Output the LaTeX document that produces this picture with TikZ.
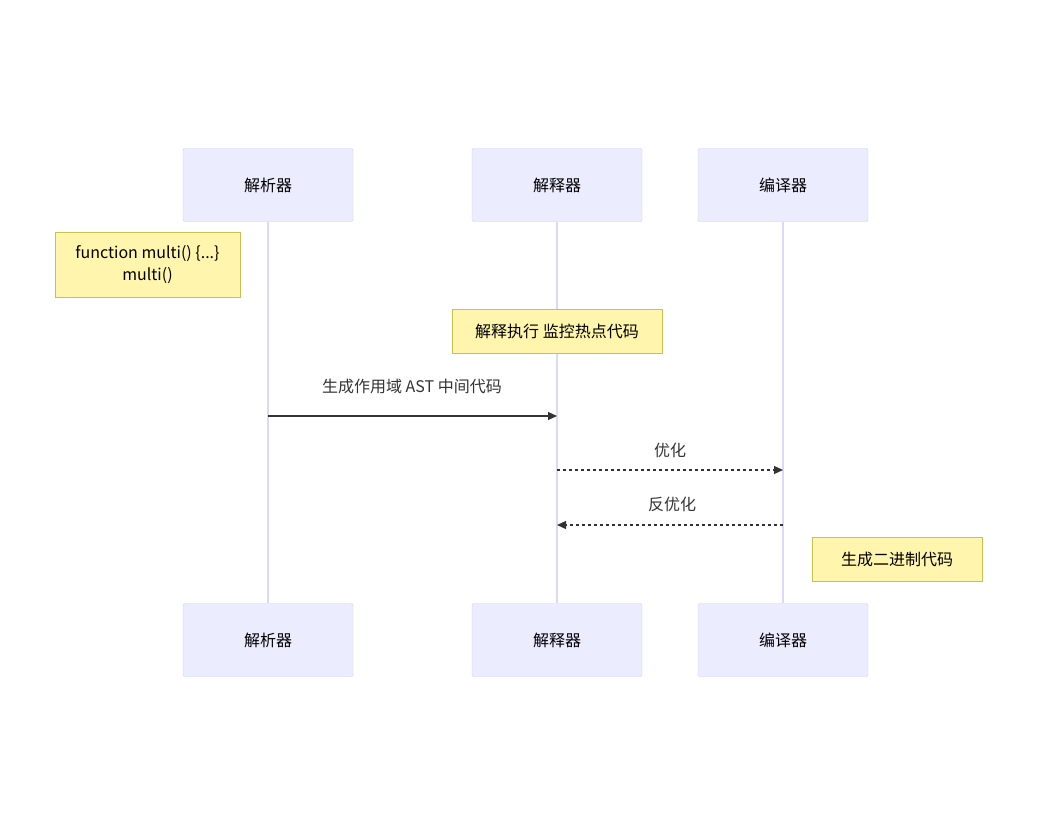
\documentclass[tikz,border=0pt]{standalone}
\usepackage{fontspec}
\setmainfont{Noto Sans CJK SC}
\usetikzlibrary{arrows.meta}
\definecolor{actfill}{HTML}{ECECFF}
\definecolor{actdraw}{HTML}{CCCCFF}
\definecolor{lifeline}{HTML}{DDD8F5}
\definecolor{notefill}{HTML}{FFF5AD}
\definecolor{notedraw}{HTML}{C8C050}
\definecolor{txt}{HTML}{333333}
\begin{document}
\begin{tikzpicture}[x=1pt,y=-1pt,
  actor/.style={draw=actdraw,fill=actfill,rounded corners=2pt,minimum width=170pt,minimum height=73pt,font=\fontsize{16}{19}\selectfont,text=black},
  note/.style={draw=notedraw,fill=notefill,minimum height=44pt,font=\fontsize{16}{22}\selectfont,text=black,align=center},
  life/.style={draw=lifeline,line width=2pt},
  msg/.style={draw=txt,line width=1.2pt,-{Triangle[length=9pt,width=8pt]}},
  lbl/.style={font=\fontsize{16}{19}\selectfont,text=txt}]
\useasboundingbox (0,0) rectangle (1039,827);
\node[actor] (a1) at (268,185) {解析器};
\node[actor] (a2) at (557,185) {解释器};
\node[actor] (a3) at (783,185) {编译器};
\node[actor] (b1) at (268,640) {解析器};
\node[actor] (b2) at (557,640) {解释器};
\node[actor] (b3) at (783,640) {编译器};
\draw[life] (a1) -- (b1);
\draw[life] (a2) -- (b2);
\draw[life] (a3) -- (b3);
\node[note,minimum width=185pt,minimum height=65pt] (n1) at (147.5,264.5) {function multi() \{...\}\\multi()};
\node[note,minimum width=210pt] (n2) at (557,331) {解释执行 监控热点代码};
\node[note,minimum width=170pt] (n3) at (897,559) {生成二进制代码};
\coordinate (m1s) at (268,416); \coordinate (m1e) at (557,416);
\coordinate (m2s) at (557,470); \coordinate (m2e) at (783,470);
\coordinate (m3s) at (783,525); \coordinate (m3e) at (557,525);
\draw[msg] (m1s) -- (m1e);
\draw[msg,dashed,dash pattern=on 3pt off 3pt] (m2s) -- (m2e);
\draw[msg,dashed,dash pattern=on 3pt off 3pt] (m3s) -- (m3e);
\node[lbl] (l1) at (412,386) {生成作用域 AST 中间代码};
\node[lbl] (l2) at (670,450) {优化};
\node[lbl] (l3) at (672,504) {反优化};
\end{tikzpicture}
\end{document}
